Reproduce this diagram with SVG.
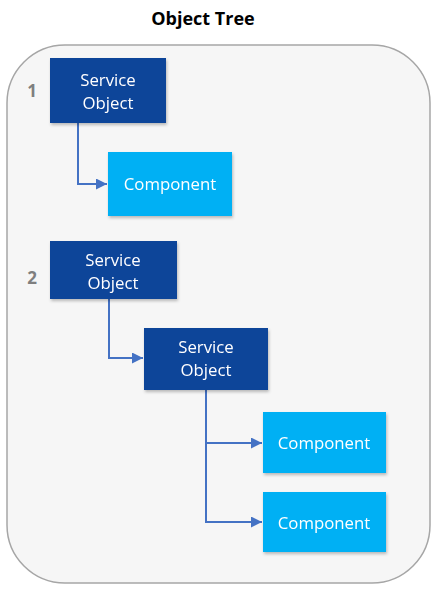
<svg xmlns="http://www.w3.org/2000/svg" width="438" height="596" viewBox="0 0 438 596">
<defs>
<style>
.t{font-family:"Open Sans","Noto Sans","DejaVu Sans",sans-serif;font-size:16.8px;fill:#fff;text-anchor:middle}
.so{fill:#0F4499}
.co{fill:#00B0F4}
.num{font-family:"Open Sans","Noto Sans",sans-serif;font-size:17px;font-weight:bold;fill:#7f7f7f}
.c{fill:none;stroke:#4472C4;stroke-width:2}
</style>
<marker id="ah" viewBox="0 0 10 10" refX="10" refY="5" markerWidth="5.5" markerHeight="5.5" orient="auto" markerUnits="strokeWidth">
<path d="M0,0 L10,5 L0,10 z" fill="#4472C4"/>
</marker>
<filter id="sh" x="-10%" y="-10%" width="130%" height="140%">
<feDropShadow dx="1" dy="2" stdDeviation="1.5" flood-color="#000" flood-opacity="0.25"/>
</filter>
</defs>
<rect width="438" height="596" fill="#fff"/>
<text x="203" y="25" font-family="'Open Sans','Noto Sans',sans-serif" font-size="18" font-weight="bold" text-anchor="middle" fill="#000">Object Tree</text>
<rect id="frame" x="7" y="45" width="423" height="538" rx="58" ry="58" fill="#f6f6f6" stroke="#a6a6a6" stroke-width="1.5"/>
<text class="num" x="32" y="97" text-anchor="middle">1</text>
<text class="num" x="32" y="284" text-anchor="middle">2</text>
<g id="connectors">
<path class="c" d="M78,123 V184 H107" marker-end="url(#ah)"/>
<path class="c" d="M109,299 V358 H143" marker-end="url(#ah)"/>
<path class="c" d="M206,390 V443 H262" marker-end="url(#ah)"/>
<path class="c" d="M206,443 V522 H262" marker-end="url(#ah)"/>
</g>
<g id="so1" filter="url(#sh)">
<rect class="so" x="50" y="58" width="116" height="65"/>
<text class="t" x="108" y="86">Service</text>
<text class="t" x="108" y="109">Object</text>
</g>
<g id="comp1" filter="url(#sh)">
<rect class="co" x="108" y="152" width="124" height="64"/>
<text class="t" x="170" y="190">Component</text>
</g>
<g id="so2" filter="url(#sh)">
<rect class="so" x="50" y="241" width="127" height="58"/>
<text class="t" x="113" y="266">Service</text>
<text class="t" x="113" y="289">Object</text>
</g>
<g id="so3" filter="url(#sh)">
<rect class="so" x="144" y="328" width="124" height="62"/>
<text class="t" x="206" y="353">Service</text>
<text class="t" x="206" y="376">Object</text>
</g>
<g id="comp2" filter="url(#sh)">
<rect class="co" x="263" y="412" width="123" height="61"/>
<text class="t" x="324" y="449">Component</text>
</g>
<g id="comp3" filter="url(#sh)">
<rect class="co" x="263" y="492" width="123" height="60"/>
<text class="t" x="324" y="529">Component</text>
</g>
</svg>
